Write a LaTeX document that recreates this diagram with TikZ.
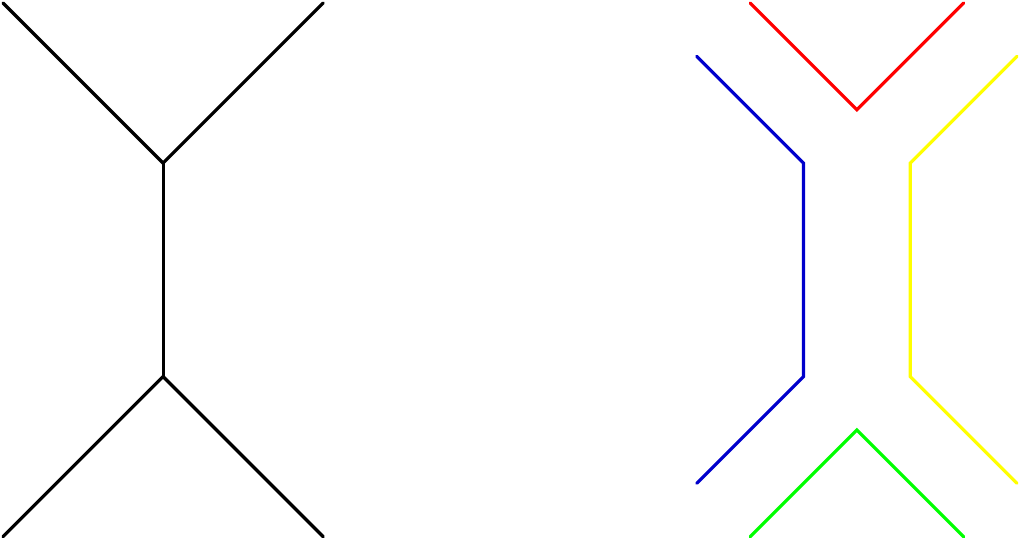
\documentclass[tikz,border=0pt]{standalone}
\usepackage{xcolor}
\definecolor{bl}{HTML}{0000CC}
\definecolor{gn}{HTML}{00FF00}
\definecolor{yl}{HTML}{FFFF00}

\begin{document}
\begin{tikzpicture}[
            line width = 1.7pt, % line style
            line cap = round
        ]

        \useasboundingbox (-3.056, -5.118) rectangle (16.13, 5.056);

        % the tree
        \coordinate (tl) at (-3, 5);
        \coordinate (tr) at (3, 5);
        \coordinate (u) at (0, 2);
        \coordinate (d) at (0, -2);
        \coordinate (bl) at (-3, -5);
        \coordinate (br) at (3, -5);

        \draw (tl) -- (u) -- (tr);
        \draw (u) -- (d);
        \draw (bl) -- (d) -- (br);

        % the four pieces
        \coordinate (r1) at (11, 5);
        \coordinate (r2) at (13, 3);
        \coordinate (r3) at (15, 5);

        \coordinate (b1) at (10, 4);
        \coordinate (b2) at (12, 2);
        \coordinate (b3) at (12, -2);
        \coordinate (b4) at (10, -4);

        \coordinate (y1) at (16, 4);
        \coordinate (y2) at (14, 2);
        \coordinate (y3) at (14, -2);
        \coordinate (y4) at (16, -4);

        \coordinate (g1) at (11, -5);
        \coordinate (g2) at (13, -3);
        \coordinate (g3) at (15, -5);

        \draw[red] (r1) -- (r2) -- (r3);
        \draw[bl] (b1) -- (b2) -- (b3) -- (b4);
        \draw[yl] (y1) -- (y2) -- (y3) -- (y4);
        \draw[gn] (g1) -- (g2) -- (g3);
    \end{tikzpicture}
\end{document}
